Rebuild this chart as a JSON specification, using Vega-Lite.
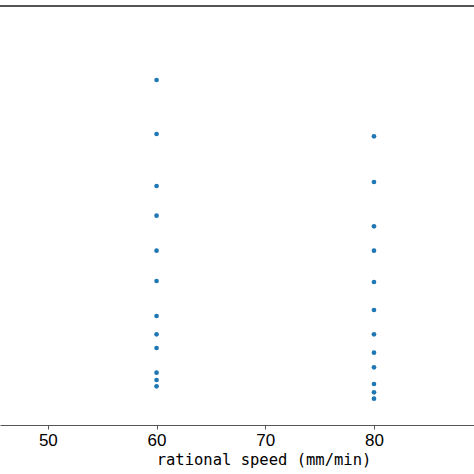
{
  "$schema": "https://vega.github.io/schema/vega-lite/v6.json",
  "width": 474,
  "height": 419,
  "autosize": {"type": "none"},
  "padding": {"top": 6, "left": 0, "right": 0, "bottom": 49},
  "config": {"view": {"stroke": null}},
  "data": {"values": [
    {"speed": 60, "value": 345},
    {"speed": 60, "value": 291},
    {"speed": 60, "value": 239},
    {"speed": 60, "value": 209.3},
    {"speed": 60, "value": 174.3},
    {"speed": 60, "value": 144},
    {"speed": 60, "value": 109},
    {"speed": 60, "value": 90.7},
    {"speed": 60, "value": 77},
    {"speed": 60, "value": 52.3},
    {"speed": 60, "value": 45},
    {"speed": 60, "value": 38.7},
    {"speed": 80, "value": 288.7},
    {"speed": 80, "value": 243},
    {"speed": 80, "value": 198.7},
    {"speed": 80, "value": 174.3},
    {"speed": 80, "value": 143},
    {"speed": 80, "value": 115},
    {"speed": 80, "value": 90.7},
    {"speed": 80, "value": 72.3},
    {"speed": 80, "value": 57.7},
    {"speed": 80, "value": 41},
    {"speed": 80, "value": 32.7},
    {"speed": 80, "value": 26.3}
  ]},
  "layer": [
    {
      "mark": {"type": "rule", "color": "#555", "strokeWidth": 1.2},
      "encoding": {"y": {"datum": 419, "scale": {"domain": [0, 419], "nice": false, "zero": false}, "axis": null}}
    },
    {
      "mark": {"type": "circle", "size": 22, "color": "#1f77b4", "opacity": 1},
      "encoding": {
        "x": {
          "field": "speed", "type": "quantitative",
          "scale": {"domain": [45.6, 89.2], "nice": false, "zero": false},
          "axis": {
            "title": "rational speed (mm/min)",
            "values": [50, 60, 70, 80],
            "grid": false,
            "domainColor": "#555",
            "domainWidth": 1.2,
            "tickColor": "#555",
            "tickSize": 4,
            "labelFont": "Liberation Sans",
            "labelFontSize": 17,
            "labelColor": "#000",
            "labelPadding": 3,
            "titleFont": "DejaVu Sans Mono",
            "titleFontSize": 15.5,
            "titleFontWeight": "normal",
            "titleColor": "#000",
            "titlePadding": 4,
            "titleX": 263.5
          }
        },
        "y": {"field": "value", "type": "quantitative", "scale": {"domain": [0, 419], "nice": false, "zero": false}, "axis": null}
      }
    }
  ]
}
